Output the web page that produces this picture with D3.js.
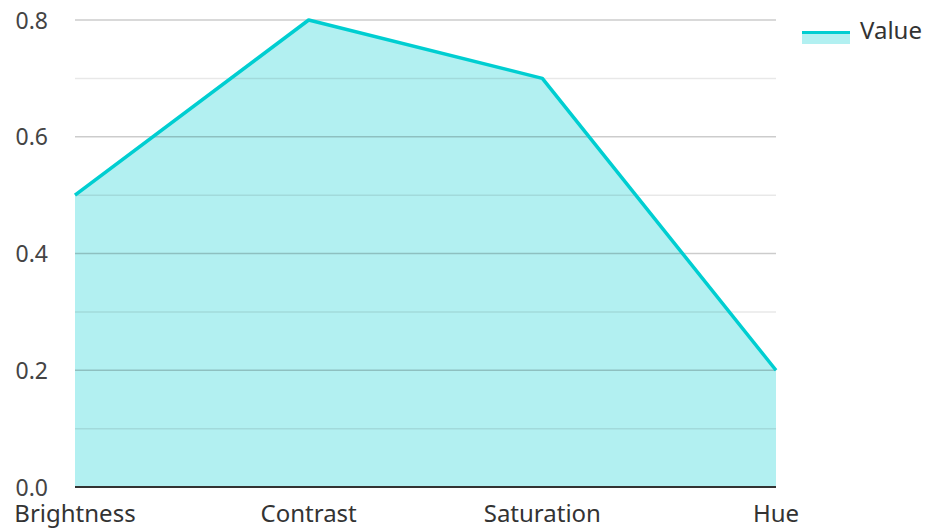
<!DOCTYPE html>
<html><head><meta charset="utf-8">
<script src="https://cdn.jsdelivr.net/npm/d3@7"></script>
<style>body{margin:0;background:#fff}svg{display:block}text{font-family:"Noto Sans","Open Sans",sans-serif}</style>
</head><body><svg id="c" width="925" height="529"></svg>
<script>
const categories = ["Brightness","Contrast","Saturation","Hue"];
const values = [0.5,0.8,0.7,0.2];
const seriesName = "Value";
const yTicks = [0,0.2,0.4,0.6,0.8];
const yMinorTicks = [0.1,0.3,0.5,0.7];

const svg = d3.select("#c");
const m = {l:75, r:149, t:20, b:42};
const W = 925, H = 529;
const x = d3.scalePoint().domain(categories).range([m.l, W-m.r]);
const y = d3.scaleLinear().domain([0,0.8]).range([H-m.b, m.t]);
const color = "#00CED1";
const data = categories.map((c,i)=>({c, v:values[i]}));

svg.append("path").datum(data)
  .attr("d", d3.area().x(d=>x(d.c)).y0(y(0)).y1(d=>y(d.v)))
  .attr("fill", color).attr("fill-opacity",0.3);

svg.append("g").selectAll("line").data(yMinorTicks).join("line")
  .attr("x1",m.l).attr("x2",W-m.r).attr("y1",d=>y(d)).attr("y2",d=>y(d))
  .attr("stroke","rgba(0,0,0,0.09)").attr("stroke-width",1.5);
svg.append("g").selectAll("line").data(yTicks.filter(d=>d>0)).join("line")
  .attr("x1",m.l).attr("x2",W-m.r).attr("y1",d=>y(d)).attr("y2",d=>y(d))
  .attr("stroke","rgba(0,0,0,0.2)").attr("stroke-width",1.5);

svg.append("path").datum(data)
  .attr("d", d3.line().x(d=>x(d.c)).y(d=>y(d.v)))
  .attr("fill","none").attr("stroke",color).attr("stroke-width",3.5).attr("stroke-linejoin","round");

svg.append("line").attr("x1",m.l).attr("x2",W-m.r).attr("y1",y(0)).attr("y2",y(0))
  .attr("stroke","#333").attr("stroke-width",2);

svg.append("g").selectAll("text").data(yTicks).join("text")
  .attr("x",48).attr("y",d=>y(d)+8.5).attr("text-anchor","end")
  .attr("font-size",23).attr("fill","#444").text(d=>d3.format(".1f")(d));

svg.append("g").selectAll("text").data(categories).join("text")
  .attr("x",d=>x(d)).attr("y",522).attr("text-anchor","middle")
  .attr("font-size",24).attr("fill","#333").text(d=>d);

const lg = svg.append("g");
lg.append("rect").attr("x",802).attr("y",32).attr("width",48).attr("height",12)
  .attr("fill",color).attr("fill-opacity",0.3);
lg.append("line").attr("x1",802).attr("x2",850).attr("y1",32.5).attr("y2",32.5)
  .attr("stroke",color).attr("stroke-width",3);
lg.append("text").attr("x",860).attr("y",39).attr("font-size",24).attr("fill","#333").text(seriesName);
</script></body></html>
